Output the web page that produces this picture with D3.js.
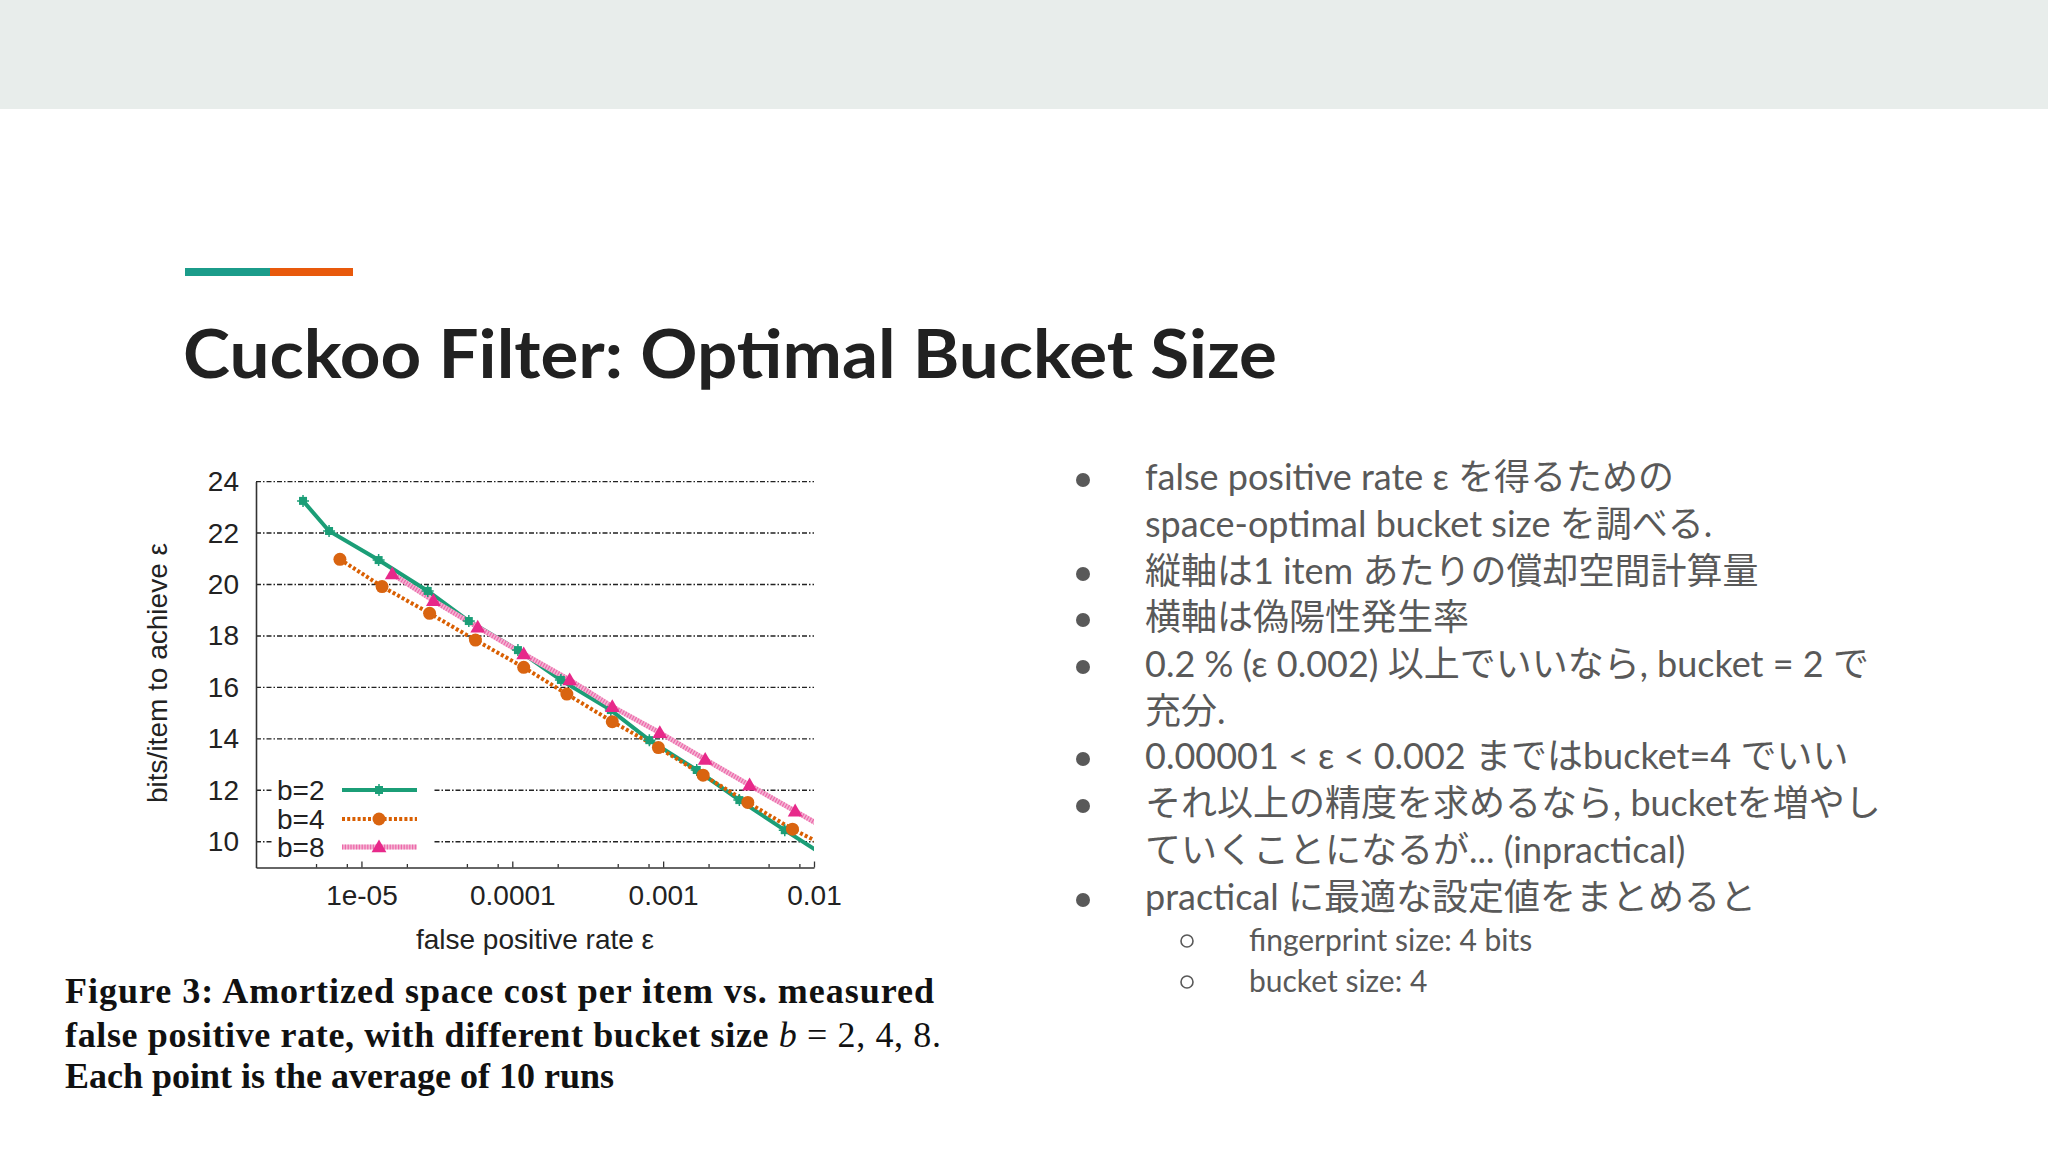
<!DOCTYPE html>
<html>
<head>
<meta charset="utf-8">
<script src="https://cdn.jsdelivr.net/npm/d3@7"></script>
<style>
  body { margin: 0; background: #fff; }
  svg { display: block; }
</style>
</head>
<body>
<div id="slide"></div>
<script>
// values (false positive rate vs bits/item)
const seriesNames = ["b=2", "b=4", "b=8"];
const fprB2 = [4.1e-6, 6.1e-6, 1.3e-5, 2.75e-5, 5.15e-5, 1.09e-4, 2.1e-4, 4.5e-4, 8.1e-4, 1.67e-3, 3.2e-3, 6.4e-3, 1.3e-2];
const bitsB2 = [23.25, 22.08, 20.95, 19.75, 18.58, 17.45, 16.29, 15.12, 13.95, 12.79, 11.62, 10.45, 9.29];
const fprB4 = [7.2e-6, 1.37e-5, 2.83e-5, 5.7e-5, 1.19e-4, 2.3e-4, 4.6e-4, 9.3e-4, 1.84e-3, 3.64e-3, 7.2e-3, 1.44e-2];
const bitsB4 = [20.98, 19.92, 18.88, 17.84, 16.78, 15.74, 14.67, 13.66, 12.59, 11.53, 10.49, 9.6];
const fprB8 = [1.6e-5, 3.0e-5, 5.9e-5, 1.19e-4, 2.4e-4, 4.6e-4, 9.5e-4, 1.9e-3, 3.74e-3, 7.5e-3, 1.5e-2];
const bitsB8 = [20.41, 19.37, 18.34, 17.30, 16.29, 15.25, 14.24, 13.20, 12.20, 11.19, 10.18];

const yTicks = [10, 12, 14, 16, 18, 20, 22, 24];
const xTicks = [1e-5, 1e-4, 1e-3, 1e-2];
const xTickLabels = ["1e-05", "0.0001", "0.001", "0.01"];
const xMinorTicks = [5e-6, 8e-6, 2e-5, 5e-5, 8e-5, 2e-4, 5e-4, 8e-4, 2e-3, 5e-3, 8e-3];

const titleText = "Cuckoo Filter: Optimal Bucket Size";
const bulletLines = [
  { text: "false positive rate ε を得るための", level: 1, mark: true },
  { text: "space-optimal bucket size を調べる.", level: 1, mark: false },
  { text: "縦軸は1 item あたりの償却空間計算量", level: 1, mark: true },
  { text: "横軸は偽陽性発生率", level: 1, mark: true },
  { text: "0.2 % (ε 0.002) 以上でいいなら, bucket = 2 で", level: 1, mark: true },
  { text: "充分.", level: 1, mark: false },
  { text: "0.00001 < ε < 0.002 まではbucket=4 でいい", level: 1, mark: true },
  { text: "それ以上の精度を求めるなら, bucketを増やし", level: 1, mark: true },
  { text: "ていくことになるが... (inpractical)", level: 1, mark: false },
  { text: "practical に最適な設定値をまとめると", level: 1, mark: true },
  { text: "fingerprint size: 4 bits", level: 2, mark: true },
  { text: "bucket size: 4", level: 2, mark: true }
];
const bulletY = [490, 537, 584, 630, 677, 724, 769, 816, 863, 910, 951, 992];

const W = 2048, H = 1152;
const svg = d3.select("#slide").append("svg")
  .attr("width", W)
  .attr("height", H);

// slide header band and accent bar
svg.append("rect").attr("width", W).attr("height", 109).attr("fill", "#e8edeb");
svg.append("rect").attr("x", 185).attr("y", 268).attr("width", 85).attr("height", 8).attr("fill", "#1b9c8a");
svg.append("rect").attr("x", 270).attr("y", 268).attr("width", 83).attr("height", 8).attr("fill", "#e8590c");

svg.append("text")
  .attr("x", 183)
  .attr("y", 378)
  .attr("font-family", "Lato, 'Open Sans', sans-serif")
  .attr("font-weight", 700)
  .attr("font-size", 66)
  .attr("textLength", 1094)
  .attr("lengthAdjust", "spacingAndGlyphs")
  .attr("fill", "#212121")
  .text(titleText);

// ---- chart ----
const plot = { left: 256, right: 814, top: 481.6, bottom: 867.5 };
const chartFont = "'Liberation Sans', Arial, sans-serif";
const chartFontSize = 28;

const x = d3.scaleLog().domain([2e-6, 1e-2]).range([plot.left, plot.right]);
const y = d3.scaleLinear().domain([9, 24]).range([plot.bottom, plot.top]);

const chart = svg.append("g");

chart.append("clipPath").attr("id", "plotClip")
  .append("rect")
  .attr("x", plot.left)
  .attr("y", plot.top - 20)
  .attr("width", plot.right - plot.left)
  .attr("height", plot.bottom - plot.top + 20);

// grid lines
chart.append("g")
  .selectAll("line")
  .data(yTicks)
  .join("line")
  .attr("x1", plot.left)
  .attr("x2", plot.right)
  .attr("y1", d => y(d))
  .attr("y2", d => y(d))
  .attr("stroke", "#222")
  .attr("stroke-width", 1.4)
  .attr("stroke-dasharray", "5,2,1.5,2");

// legend background hides the grid under it
chart.append("rect")
  .attr("x", 273)
  .attr("y", 770)
  .attr("width", 160)
  .attr("height", 92)
  .attr("fill", "#fff");

// axes
chart.append("g")
  .attr("transform", `translate(0,${plot.bottom})`)
  .call(d3.axisBottom(x).tickValues(xTicks)
    .tickFormat((d, i) => xTickLabels[i])
    .tickSize(-6).tickSizeOuter(0).tickPadding(18));

chart.append("g")
  .attr("transform", `translate(0,${plot.bottom})`)
  .call(d3.axisBottom(x).tickValues(xMinorTicks)
    .tickFormat("").tickSize(-3.5).tickSizeOuter(0))
  .select(".domain").remove();

chart.append("g")
  .attr("transform", `translate(${plot.left},0)`)
  .call(d3.axisLeft(y).tickValues(yTicks).tickSize(0).tickSizeOuter(0).tickPadding(17));

chart.selectAll(".domain").attr("stroke", "#333").attr("stroke-width", 1.6);
chart.selectAll(".tick line").attr("stroke", "#333").attr("stroke-width", 1.3);
chart.selectAll(".tick text")
  .attr("font-family", chartFont)
  .attr("font-size", chartFontSize)
  .attr("fill", "#222");

// axis titles
chart.append("text")
  .attr("transform", "translate(157,673) rotate(-90)")
  .attr("text-anchor", "middle")
  .attr("dy", "0.35em")
  .attr("font-family", chartFont)
  .attr("font-size", chartFontSize)
  .attr("fill", "#222")
  .text("bits/item to achieve ε");

chart.append("text")
  .attr("x", 535)
  .attr("y", 949)
  .attr("text-anchor", "middle")
  .attr("font-family", chartFont)
  .attr("font-size", chartFontSize)
  .attr("fill", "#222")
  .text("false positive rate ε");

// series
const toPoints = (fpr, bits) => fpr.map((f, i) => ({ fpr: f, bits: bits[i] }));
const series = [
  { name: seriesNames[0], points: toPoints(fprB2, bitsB2), color: "#1b9e77" },
  { name: seriesNames[1], points: toPoints(fprB4, bitsB4), color: "#d95f02" },
  { name: seriesNames[2], points: toPoints(fprB8, bitsB8), color: "#e7298a" }
];

const line = d3.line().x(d => x(d.fpr)).y(d => y(d.bits));
const plotArea = chart.append("g").attr("clip-path", "url(#plotClip)");

// stroke styles per series
const drawStroke = (g, s, idx) => {
  if (idx === 0) {
    g.append("path").attr("d", s).attr("fill", "none")
      .attr("stroke", "#1b9e77").attr("stroke-width", 4);
  } else if (idx === 1) {
    g.append("path").attr("d", s).attr("fill", "none")
      .attr("stroke", "#d95f02").attr("stroke-width", 4)
      .attr("stroke-dasharray", "3,2.2");
  } else {
    g.append("path").attr("d", s).attr("fill", "none")
      .attr("stroke", "#f4b5d3").attr("stroke-width", 5);
    g.append("path").attr("d", s).attr("fill", "none")
      .attr("stroke", "#e7298a").attr("stroke-opacity", 0.55).attr("stroke-width", 5)
      .attr("stroke-dasharray", "1.2,1.6");
  }
};

const drawMarker = (g, idx, cx, cy) => {
  if (idx === 0) {
    g.append("rect").attr("x", cx - 4).attr("y", cy - 4)
      .attr("width", 8).attr("height", 8).attr("fill", "#1b9e77");
    g.append("path").attr("d", `M${cx - 6},${cy}H${cx + 6}M${cx},${cy - 6}V${cy + 6}`)
      .attr("stroke", "#1b9e77").attr("stroke-width", 1.5);
  } else if (idx === 1) {
    g.append("circle").attr("cx", cx).attr("cy", cy).attr("r", 6.5)
      .attr("fill", "#d96410");
  } else {
    g.append("path")
      .attr("transform", `translate(${cx},${cy + 1})`)
      .attr("d", d3.symbol(d3.symbolTriangle, 95)())
      .attr("fill", "#e7298a");
  }
};

series.forEach((s, idx) => {
  drawStroke(plotArea, line(s.points), idx);
});
series.forEach((s, idx) => {
  s.points.forEach(p => drawMarker(plotArea, idx, x(p.fpr), y(p.bits)));
});

// legend
const legendY = [790, 819, 847];
series.forEach((s, idx) => {
  const ly = legendY[idx];
  chart.append("text")
    .attr("x", 277)
    .attr("y", ly)
    .attr("dy", "0.36em")
    .attr("font-family", chartFont)
    .attr("font-size", chartFontSize)
    .attr("fill", "#222")
    .text(s.name);
  drawStroke(chart, `M342,${ly}H417`, idx);
  drawMarker(chart, idx, 379, ly);
});

// ---- caption ----
const capFont = "'Liberation Serif', 'Times New Roman', serif";
const cap = svg.append("g")
  .attr("font-family", capFont)
  .attr("font-size", 36)
  .attr("font-weight", 700)
  .attr("fill", "#111");

cap.append("text")
  .attr("x", 65).attr("y", 1003)
  .attr("textLength", 869).attr("lengthAdjust", "spacing")
  .text("Figure 3:  Amortized space cost per item vs.  measured");

const cap2 = cap.append("text")
  .attr("x", 65).attr("y", 1047)
  .attr("textLength", 876).attr("lengthAdjust", "spacing");
cap2.append("tspan").text("false positive rate, with different bucket size ");
cap2.append("tspan").attr("font-style", "italic").attr("font-weight", 400).text("b");
cap2.append("tspan").attr("font-weight", 400).text(" = 2, 4, 8.");

cap.append("text")
  .attr("x", 65).attr("y", 1088)
  .text("Each point is the average of 10 runs");

// ---- bullet text ----
const textFont = "Lato, 'Noto Sans CJK JP', sans-serif";
const bullets = svg.append("g").attr("fill", "#595959");

bulletLines.forEach((b, i) => {
  const by = bulletY[i];
  const size = b.level === 1 ? 36 : 30;
  if (b.mark && b.level === 1) {
    bullets.append("circle").attr("cx", 1083).attr("cy", by - 10).attr("r", 7);
  } else if (b.mark) {
    bullets.append("circle").attr("cx", 1187).attr("cy", by - 10).attr("r", 6)
      .attr("fill", "none").attr("stroke", "#595959").attr("stroke-width", 1.6);
  }
  bullets.append("text")
    .attr("x", b.level === 1 ? 1145 : 1249)
    .attr("y", by)
    .attr("font-family", textFont)
    .attr("font-size", size)
    .text(b.text);
});
</script>
</body>
</html>
